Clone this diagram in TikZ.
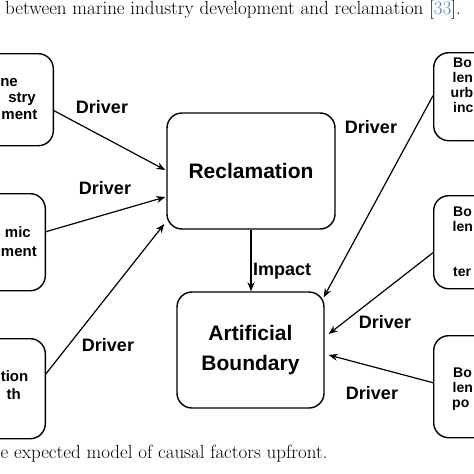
\documentclass[tikz,border=0pt]{standalone}
\usepackage{fontspec}
\setsansfont{Liberation Sans}
\usepackage{xcolor}
\usetikzlibrary{arrows.meta,calc,positioning}
\definecolor{citeblue}{RGB}{80,130,200}

\begin{document}
\begin{tikzpicture}[x=1pt,y=-1pt]
	\tikzstyle{every node}=[font=\sffamily\bfseries, inner sep=0pt]
	\tikzstyle{factor}=[draw, line width=1.4pt, rounded corners=15pt]
	\tikzstyle{link}=[line width=1.2pt, -{Stealth[length=9pt,width=7pt]}]
	\tikzstyle{lbl}=[font=\sffamily\bfseries\fontsize{18}{20}\selectfont]
	\tikzstyle{lefttxt}=[font=\sffamily\bfseries\fontsize{15}{17}\selectfont, anchor=base east]
	\tikzstyle{righttxt}=[font=\sffamily\bfseries\fontsize{14}{15}\selectfont, anchor=base west]
	\tikzstyle{caption}=[font=\rmfamily\fontsize{19}{21}\selectfont, anchor=base west]
	\useasboundingbox (0,0) rectangle (474,474);
	\clip (0,0) rectangle (474,474);
	% caption lines
	\node [caption] (captop) at (5,14) {between marine industry development and reclamation [\textcolor{citeblue}{33}].};
	\node [caption] (capbot) at (0.5,458) {e expected model of causal factors upfront.};
	% left factors
	\node [factor, minimum width=140pt, minimum height=92pt, anchor=north east] (md) at (54,53) {};
	\node [factor, minimum width=140pt, minimum height=97pt, anchor=north east] (ed) at (46,193) {};
	\node [factor, minimum width=140pt, minimum height=100pt, anchor=north east] (pg) at (46,338) {};
	\node [lefttxt] (md1) at (18,86) {ne};
	\node [lefttxt] (md2) at (36,102) {stry};
	\node [lefttxt] (md3) at (37.5,119) {ment};
	\node [lefttxt] (ed1) at (31,237) {mic};
	\node [lefttxt] (ed2) at (37,256) {ment};
	\node [lefttxt] (pg1) at (28.5,381) {tion};
	\node [lefttxt] (pg2) at (21,399) {th};
	% centre boxes
	\node [factor, minimum width=168pt, minimum height=116pt, font=\sffamily\bfseries\fontsize{21}{30}\selectfont] (rec) at (251,171) {Reclamation};
	\node [factor, minimum width=147pt, minimum height=116pt, align=center, font=\sffamily\bfseries\fontsize{21}{30}\selectfont] (ab) at (250.5,350) {Artificial\\Boundary};
	% right factors
	\node [factor, minimum width=140pt, minimum height=88pt, anchor=north west] (bu) at (433,52) {};
	\node [factor, minimum width=140pt, minimum height=93pt, anchor=north west] (bt) at (433,195) {};
	\node [factor, minimum width=140pt, minimum height=102pt, anchor=north west] (bp) at (433,335) {};
	\node [righttxt] (bu1) at (453,67) {Bo};
	\node [righttxt] (bu2) at (452.5,82) {len};
	\node [righttxt] (bu3) at (450.5,97) {urb};
	\node [righttxt] (bu4) at (453,112) {inc};
	\node [righttxt] (bt1) at (453,216) {Bo};
	\node [righttxt] (bt2) at (452.5,231) {len};
	\node [righttxt] (bt3) at (453,276) {ter};
	\node [righttxt] (bp1) at (453,377) {Bo};
	\node [righttxt] (bp2) at (452.5,392) {len};
	\node [righttxt] (bp3) at (452,407) {po};
	% connectors
	\draw [link] ($(md.east)+(0,11)$) -- ($(rec.west)+(-1,-1)$);
	\draw [link] ($(ed.east)+(0,-10.5)$) -- ($(rec.west)+(-1,26)$);
	\draw [link] ($(pg.east)+(0,-15)$) -- ($(rec.west)+(-2,53)$);
	\draw [link] (rec.south) -- (rec.south |- ab.north);
	\draw [link] ($(bu.west)+(0,-1)$) -- ($(ab.north east)+(-1,6)$);
	\draw [link] ($(bt.west)+(0,10.5)$) -- ($(ab.east)+(4,-16)$);
	\draw [link] ($(bp.west)+(0,-4)$) -- ($(ab.east)+(4,5)$);
	% labels
	\node [lbl] (d1) at (102,107) {Driver};
	\node [lbl] (d2) at (105,188) {Driver};
	\node [lbl] (d3) at (108,345) {Driver};
	\node [lbl] (d4) at (371,127) {Driver};
	\node [lbl] (d5) at (385,322) {Driver};
	\node [lbl] (d6) at (372,393) {Driver};
	\node [lbl, anchor=west] (imp) at (253,271) {Impact};
\end{tikzpicture}
\end{document}
